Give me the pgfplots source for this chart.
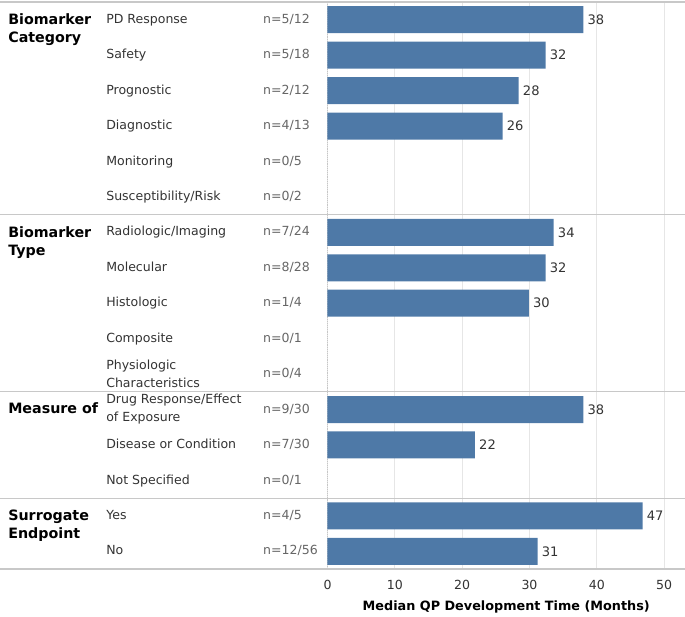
\documentclass[border=0pt]{standalone}
\usepackage{pgfplots}
\pgfplotsset{compat=1.18}
\usepackage{fontspec}
\setmainfont{DejaVu Sans}
\definecolor{barblue}{HTML}{4E79A7}
\definecolor{sepgray}{HTML}{C8C8C8}
\definecolor{gridgray}{HTML}{E6E6E6}
\definecolor{txt}{HTML}{333333}
\definecolor{ngray}{HTML}{666666}
\newcommand{\lbl}{\fontsize{9.4}{13.5}\selectfont}
\newcommand{\grp}{\fontsize{10.7}{13.5}\selectfont\bfseries}
\begin{document}
\begin{tikzpicture}[
  grp/.style={anchor=west, inner sep=0pt, xshift=-239.6pt, align=left, font=\grp, text=black},
  sub/.style={anchor=mid west, inner sep=0pt, xshift=-166.1pt, font=\lbl, text=txt},
  sub2/.style={anchor=west, inner sep=0pt, xshift=-166.1pt, align=left, font=\lbl, text=txt},
  cnt/.style={anchor=mid west, inner sep=0pt, xshift=-48.4pt, font=\lbl, text=ngray},
  sep/.style={sepgray, line width=0.8pt}]
\useasboundingbox (-245.625pt,-36pt) rectangle (268.125pt,426.75pt);
\begin{axis}[
  at={(0,0)}, anchor=south west,
  scale only axis, width=268.125pt, height=425.25pt,
  xbar, bar width=20.25pt,
  xmin=0, xmax=53.1, ymin=-0.5, ymax=15.5, y dir=reverse,
  ytick=\empty, xtick={0,10,...,50},
  xmajorgrids, grid style={gridgray, line width=0.6pt},
  major tick length=0pt,
  axis line style={draw=none},
  clip=false,
  ticklabel style={font=\lbl, text=txt},
  xticklabel style={yshift=-5pt},
  xlabel={Median QP Development Time (Months)},
  xlabel style={at={(axis description cs:0.5,0)}, anchor=center, yshift=-28.5pt,
    font=\fontsize{9.6}{11}\selectfont\bfseries},
  point meta=x,
  nodes near coords,
  every node near coord/.append style={font=\fontsize{9.8}{12}\selectfont, text=txt,
    anchor=west, inner sep=0pt, xshift=3pt},
  /pgf/number format/assume math mode=true,
  /pgf/number format/fixed,
  /pgf/number format/precision=0,
]
\draw[gray!45, densely dotted] (axis cs:0,-0.5) -- (axis cs:0,15.5);

\addplot[fill=barblue, draw=none] coordinates {
  (38.0,0) (32.4,1) (28.4,2) (26.0,3)
  (33.6,6) (32.4,7) (29.9,8)
  (38.0,11) (21.9,12)
  (46.8,14) (31.2,15)
};

% group separators, full width of the picture
\draw[sep] ([xshift=-245.625pt]axis cs:0,-0.5) -- (axis cs:53.1,-0.5);
\draw[sep] ([xshift=-245.625pt]axis cs:0,5.5) -- (axis cs:53.1,5.5);
\draw[sep] ([xshift=-245.625pt]axis cs:0,10.5) -- (axis cs:53.1,10.5);
\draw[sep] ([xshift=-245.625pt]axis cs:0,13.5) -- (axis cs:53.1,13.5);
\draw[sep] ([xshift=-245.625pt]axis cs:0,15.5) -- (axis cs:53.1,15.5);

% group labels
\node[grp] at (axis cs:0,0.28) {Biomarker\\Category};
\node[grp] at (axis cs:0,6.28) {Biomarker\\Type};
\node[grp, anchor=mid west] at (axis cs:0,11) {Measure of};
\node[grp] at (axis cs:0,14.28) {Surrogate\\Endpoint};

% row labels
\node[sub] at (axis cs:0,0) {PD Response};
\node[sub] at (axis cs:0,1) {Safety};
\node[sub] at (axis cs:0,2) {Prognostic};
\node[sub] at (axis cs:0,3) {Diagnostic};
\node[sub] at (axis cs:0,4) {Monitoring};
\node[sub] at (axis cs:0,5) {Susceptibility/Risk};
\node[sub] at (axis cs:0,6) {Radiologic/Imaging};
\node[sub] at (axis cs:0,7) {Molecular};
\node[sub] at (axis cs:0,8) {Histologic};
\node[sub] at (axis cs:0,9) {Composite};
\node[sub2] at (axis cs:0,10) {Physiologic\\Characteristics};
\node[sub2] at (axis cs:0,11) {Drug Response/Effect\\of Exposure};
\node[sub] at (axis cs:0,12) {Disease or Condition};
\node[sub] at (axis cs:0,13) {Not Specified};
\node[sub] at (axis cs:0,14) {Yes};
\node[sub] at (axis cs:0,15) {No};

% counts
\node[cnt] at (axis cs:0,0) {n=5/12};
\node[cnt] at (axis cs:0,1) {n=5/18};
\node[cnt] at (axis cs:0,2) {n=2/12};
\node[cnt] at (axis cs:0,3) {n=4/13};
\node[cnt] at (axis cs:0,4) {n=0/5};
\node[cnt] at (axis cs:0,5) {n=0/2};
\node[cnt] at (axis cs:0,6) {n=7/24};
\node[cnt] at (axis cs:0,7) {n=8/28};
\node[cnt] at (axis cs:0,8) {n=1/4};
\node[cnt] at (axis cs:0,9) {n=0/1};
\node[cnt] at (axis cs:0,10) {n=0/4};
\node[cnt] at (axis cs:0,11) {n=9/30};
\node[cnt] at (axis cs:0,12) {n=7/30};
\node[cnt] at (axis cs:0,13) {n=0/1};
\node[cnt] at (axis cs:0,14) {n=4/5};
\node[cnt] at (axis cs:0,15) {n=12/56};
\end{axis}
\end{tikzpicture}
\end{document}
